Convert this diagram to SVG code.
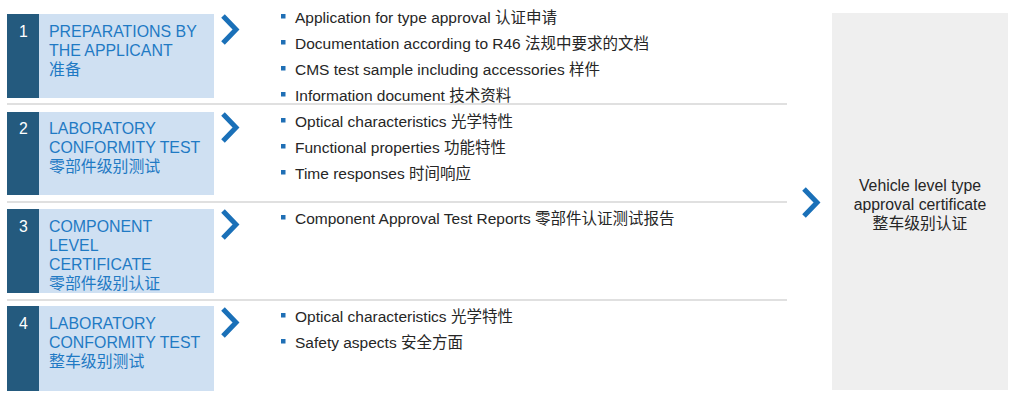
<svg xmlns="http://www.w3.org/2000/svg" width="1024" height="402" viewBox="0 0 1024 402">
<defs>
<style>
text{font-family:"Liberation Sans","Noto Sans CJK SC",sans-serif;}
.num{fill:#ffffff;font-size:15.8px;}
.dark{fill:#245a7e;}
.light{fill:#cfe0f2;}
.title{fill:#1f7ac4;font-size:15.9px;}
.chev{fill:none;stroke:#1a70b8;stroke-width:5;stroke-linejoin:miter;stroke-miterlimit:10;}
.sep{stroke:#d6d6d6;stroke-width:1.5;}
.bul{fill:#1f6fb5;}
.item{fill:#262626;font-size:15.5px;}
.res{fill:#262626;font-size:15.8px;text-anchor:middle;}
</style>
</defs>
<rect width="1024" height="402" fill="#ffffff"/>
<g id="connectors">
<line class="sep" x1="7" y1="104" x2="787" y2="104"/>
<line class="sep" x1="7" y1="202" x2="787" y2="202"/>
<line class="sep" x1="7" y1="300" x2="787" y2="300"/>
<polyline class="chev" points="223,16 236,29.5 223,43"/>
<polyline class="chev" points="223,114 236,127.5 223,141"/>
<polyline class="chev" points="223,211 236,224.5 223,238"/>
<polyline class="chev" points="223,309 236,322.5 223,336"/>
<polyline class="chev" points="804,189 817,202.5 804,216"/>
</g>
<g id="step1">
<rect class="dark" x="7" y="14" width="32" height="84"/>
<rect class="light" x="39" y="14" width="175" height="84"/>
<text class="num" x="19" y="37">1</text>
<text class="title" x="49" y="37">PREPARATIONS BY</text>
<text class="title" x="49" y="56">THE APPLICANT</text>
<text class="title" x="49" y="75">准备</text>
</g>
<g id="step2">
<rect class="dark" x="7" y="112" width="32" height="83"/>
<rect class="light" x="39" y="112" width="175" height="83"/>
<text class="num" x="19" y="134">2</text>
<text class="title" x="49" y="134">LABORATORY</text>
<text class="title" x="49" y="153">CONFORMITY TEST</text>
<text class="title" x="49" y="172">零部件级别测试</text>
</g>
<g id="step3">
<rect class="dark" x="7" y="209" width="32" height="84"/>
<rect class="light" x="39" y="209" width="175" height="84"/>
<text class="num" x="19" y="232">3</text>
<text class="title" x="49" y="232">COMPONENT</text>
<text class="title" x="49" y="251">LEVEL</text>
<text class="title" x="49" y="270">CERTIFICATE</text>
<text class="title" x="49" y="289">零部件级别认证</text>
</g>
<g id="step4">
<rect class="dark" x="7" y="306" width="32" height="85"/>
<rect class="light" x="39" y="306" width="175" height="85"/>
<text class="num" x="19" y="329">4</text>
<text class="title" x="49" y="329">LABORATORY</text>
<text class="title" x="49" y="348">CONFORMITY TEST</text>
<text class="title" x="49" y="367">整车级别测试</text>
</g>
<g id="items1">
<rect class="bul" x="281" y="14" width="4.5" height="4.5"/>
<text class="item" x="295" y="23">Application for type approval 认证申请</text>
<rect class="bul" x="281" y="40" width="4.5" height="4.5"/>
<text class="item" x="295" y="49">Documentation according to R46 法规中要求的文档</text>
<rect class="bul" x="281" y="66" width="4.5" height="4.5"/>
<text class="item" x="295" y="75">CMS test sample including accessories 样件</text>
<rect class="bul" x="281" y="92" width="4.5" height="4.5"/>
<text class="item" x="295" y="101">Information document 技术资料</text>
</g>
<g id="items2">
<rect class="bul" x="281" y="118" width="4.5" height="4.5"/>
<text class="item" x="295" y="127">Optical characteristics 光学特性</text>
<rect class="bul" x="281" y="144" width="4.5" height="4.5"/>
<text class="item" x="295" y="153">Functional properties 功能特性</text>
<rect class="bul" x="281" y="170" width="4.5" height="4.5"/>
<text class="item" x="295" y="179">Time responses 时间响应</text>
</g>
<g id="items3">
<rect class="bul" x="281" y="215" width="4.5" height="4.5"/>
<text class="item" x="295" y="224">Component Approval Test Reports 零部件认证测试报告</text>
</g>
<g id="items4">
<rect class="bul" x="281" y="313" width="4.5" height="4.5"/>
<text class="item" x="295" y="322">Optical characteristics 光学特性</text>
<rect class="bul" x="281" y="339" width="4.5" height="4.5"/>
<text class="item" x="295" y="348">Safety aspects 安全方面</text>
</g>
<g id="result">
<rect x="832" y="13" width="176" height="377" fill="#efefef"/>
<text class="res" x="920" y="191">Vehicle level type</text>
<text class="res" x="920" y="210">approval certificate</text>
<text class="res" x="920" y="229">整车级别认证</text>
</g>
</svg>
